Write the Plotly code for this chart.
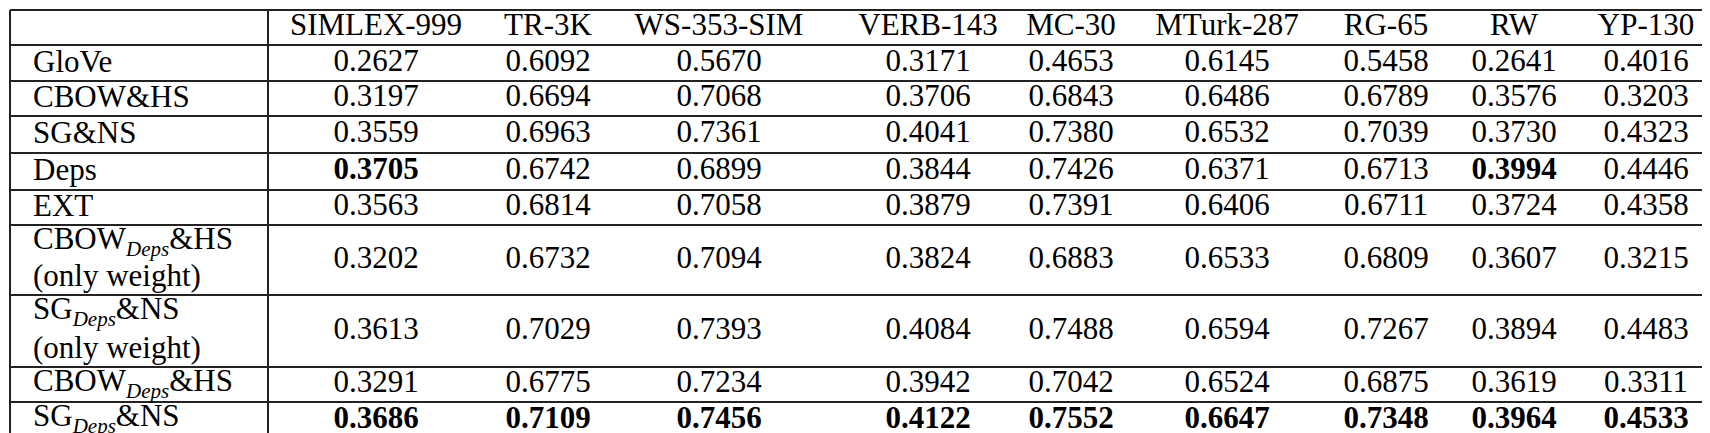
import plotly.graph_objects as go

# ---- table data ----
datasets = ["SIMLEX-999", "TR-3K", "WS-353-SIM", "VERB-143", "MC-30",
            "MTurk-287", "RG-65", "RW", "YP-130"]

SUB = "<sub><span style='font-size:21px'><i>Deps</i></span></sub>"
models = [
    ["GloVe"],
    ["CBOW&HS"],
    ["SG&NS"],
    ["Deps"],
    ["EXT"],
    ["CBOW" + SUB + "&HS", "(only weight)"],
    ["SG" + SUB + "&NS", "(only weight)"],
    ["CBOW" + SUB + "&HS"],
    ["SG" + SUB + "&NS"],
]

glove = [0.2627, 0.6092, 0.5670, 0.3171, 0.4653, 0.6145, 0.5458, 0.2641, 0.4016]
cbow_hs = [0.3197, 0.6694, 0.7068, 0.3706, 0.6843, 0.6486, 0.6789, 0.3576, 0.3203]
sg_ns = [0.3559, 0.6963, 0.7361, 0.4041, 0.7380, 0.6532, 0.7039, 0.3730, 0.4323]
deps = [0.3705, 0.6742, 0.6899, 0.3844, 0.7426, 0.6371, 0.6713, 0.3994, 0.4446]
ext = [0.3563, 0.6814, 0.7058, 0.3879, 0.7391, 0.6406, 0.6711, 0.3724, 0.4358]
cbow_deps_w = [0.3202, 0.6732, 0.7094, 0.3824, 0.6883, 0.6533, 0.6809, 0.3607, 0.3215]
sg_deps_w = [0.3613, 0.7029, 0.7393, 0.4084, 0.7488, 0.6594, 0.7267, 0.3894, 0.4483]
cbow_deps = [0.3291, 0.6775, 0.7234, 0.3942, 0.7042, 0.6524, 0.6875, 0.3619, 0.3311]
sg_deps = [0.3686, 0.7109, 0.7456, 0.4122, 0.7552, 0.6647, 0.7348, 0.3964, 0.4533]

rows = [glove, cbow_hs, sg_ns, deps, ext, cbow_deps_w, sg_deps_w, cbow_deps, sg_deps]

# cells printed in bold (row index, column index)
bold_cells = [(3, 0), (3, 7)] + [(8, c) for c in range(9)]

# ---- layout geometry (pixels) ----
W, H = 1710, 433
col_x = [368, 540, 711, 920, 1063, 1219, 1378, 1506, 1638]
row_lines = [2, 37, 73, 108, 145, 182, 217, 287, 359, 394, 430]
label_x = 23
FONT = "Liberation Serif, Times New Roman, serif"

fig = go.Figure()

# header row
fig.add_trace(go.Scatter(
    x=col_x, y=[(row_lines[0] + row_lines[1]) / 2] * len(datasets),
    text=datasets, mode="text", textposition="middle center",
    textfont=dict(family=FONT, size=31, color="black"),
    hoverinfo="skip", showlegend=False))

# value cells
for r, vals in enumerate(rows):
    yc = (row_lines[r + 1] + row_lines[r + 2]) / 2
    txt = [f"<b>{v:.4f}</b>" if (r, c) in bold_cells else f"{v:.4f}"
           for c, v in enumerate(vals)]
    fig.add_trace(go.Scatter(
        x=col_x, y=[yc] * len(vals), text=txt, mode="text",
        textposition="middle center",
        textfont=dict(family=FONT, size=31, color="black"),
        hoverinfo="skip", showlegend=False))

# row labels (one annotation per text line)
for r, lines in enumerate(models):
    top, bot = row_lines[r + 1], row_lines[r + 2]
    n = len(lines)
    step = (bot - top) / n
    for i, line in enumerate(lines):
        fig.add_annotation(x=label_x, y=top + step * (i + 0.5) - 2, text=line,
                           xanchor="left", yanchor="middle", showarrow=False,
                           font=dict(family=FONT, size=31, color="black"))

# rules
for y in row_lines:
    fig.add_shape(type="line", x0=2, x1=W, y0=y, y1=y,
                  line=dict(color="#222222", width=2))
for x in [2, 260]:
    fig.add_shape(type="line", x0=x, x1=x, y0=row_lines[0], y1=row_lines[-1],
                  line=dict(color="#222222", width=2))

fig.update_xaxes(range=[0, W], visible=False)
fig.update_yaxes(range=[H, 0], visible=False)
fig.update_layout(width=W, height=H, margin=dict(l=0, r=0, t=0, b=0),
                  plot_bgcolor="white", paper_bgcolor="white")

fig.write_html("out.html")
